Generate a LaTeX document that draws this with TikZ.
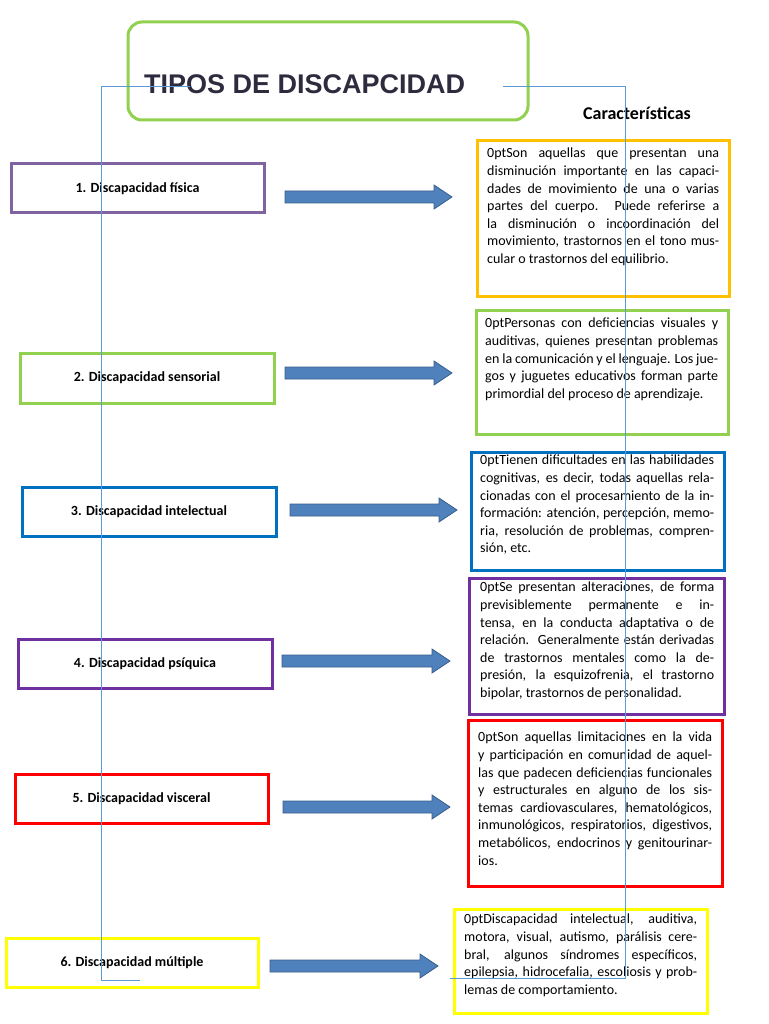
\documentclass[tikz,border=0pt]{standalone}
\usepackage{fontspec}
\setmainfont{Carlito}
\newfontfamily\titlefont{Liberation Sans}
\definecolor{cpurple}{HTML}{8064A2}
\definecolor{cpurpleb}{HTML}{7030A0}
\definecolor{cgreen}{HTML}{92D050}
\definecolor{cblue}{HTML}{0070C0}
\definecolor{cred}{HTML}{FF0000}
\definecolor{cyellow}{HTML}{FFFF00}
\definecolor{corange}{HTML}{FFC000}
\definecolor{arrfill}{HTML}{4F81BD}
\definecolor{arrline}{HTML}{385D8A}
\definecolor{conn}{HTML}{5B9BD5}
\definecolor{titlec}{HTML}{2E2B3F}
\newcommand{\bigarr}[3]{% x1, x2, y
  \path[fill=arrfill,draw=arrline,line width=0.8pt]
   (#1,#3-6) -- (#2-18,#3-6) -- (#2-18,#3-12) -- (#2,#3) -- (#2-18,#3+12) -- (#2-18,#3+6) -- (#1,#3+6) -- cycle;}
\begin{document}
\begin{tikzpicture}[x=1pt,y=-1pt,
  lbox/.style={draw,line width=3pt},
  lab/.style={font=\bfseries\fontsize{14}{16}\selectfont},
  rbox/.style={draw,line width=3pt},
  rtext/.style={anchor=north west,inner sep=0pt,align=justify,font=\fontsize{14}{17.6}\selectfont\hyphenpenalty=10000\exhyphenpenalty=10000},
  connline/.style={draw=conn,line width=0.8pt}]
\useasboundingbox (0,0) rectangle (768,1024);
% title
\draw[cgreen,line width=3pt,rounded corners=14pt] (128,22) rectangle (528,120);
\node[anchor=west,inner sep=0pt,font=\titlefont\bfseries\fontsize{27}{29}\selectfont,text=titlec] (title) at (144,84) {TIPOS DE DISCAPCIDAD};
\node[font=\bfseries\fontsize{18}{20}\selectfont] (car) at (637,113) {Características};
% left boxes
\draw[lbox,cpurple] (11,164) rectangle (264,213);
\node[lab] (l1) at (137.5,188.5) {1. Discapacidad física};
\draw[lbox,cgreen] (20,353) rectangle (274,403);
\node[lab] (l2) at (147,378) {2. Discapacidad sensorial};
\draw[lbox,cblue] (22,487) rectangle (276,536);
\node[lab] (l3) at (149,511.5) {3. Discapacidad intelectual};
\draw[lbox,cpurpleb] (18,639) rectangle (272,688);
\node[lab] (l4) at (145,663.5) {4. Discapacidad psíquica};
\draw[lbox,cred] (15,774) rectangle (268,823);
\node[lab] (l5) at (141.5,798.5) {5. Discapacidad visceral};
\draw[lbox,cyellow] (6,938) rectangle (258,987);
\node[lab] (l6) at (132,963) {6. Discapacidad múltiple};
% arrows
\bigarr{285}{452}{197}
\bigarr{285}{452}{373}
\bigarr{290}{457}{510}
\bigarr{282}{450}{661}
\bigarr{283}{450}{807}
\bigarr{270}{438}{966}
% right boxes
\draw[rbox,corange] (477,141) rectangle (729,296);
\node[rtext,text width=232pt] (r1) at (487,148) {Son aquellas que presentan una disminución importante en las capacidades de movimiento de una o varias partes del cuerpo. Puede referirse a la disminución o incoordinación del movimiento, trastornos en el tono muscular o trastornos del equilibrio.};
\draw[rbox,cgreen] (476,310) rectangle (728,434);
\node[rtext,text width=233pt] (r2) at (485,318) {Personas con deficiencias visuales y auditivas, quienes presentan problemas en la comunicación y el lenguaje. Los juegos y juguetes educativos forman parte primordial del proceso de aprendizaje.};
\draw[rbox,cblue] (471,452) rectangle (724,570);
\node[rtext,text width=234pt] (r3) at (480,455) {Tienen dificultades en las habilidades cognitivas, es decir, todas aquellas relacionadas con el procesamiento de la información: atención, percepción, memoria, resolución de problemas, comprensión, etc.};
\draw[rbox,cpurpleb] (469,578) rectangle (724,714);
\node[rtext,text width=234pt] (r4) at (480,582) {Se presentan alteraciones, de forma previsiblemente permanente e intensa, en la conducta adaptativa o de relación. Generalmente están derivadas de trastornos mentales como la depresión, la esquizofrenia, el trastorno bipolar, trastornos de personalidad.};
\draw[rbox,cred] (468,720) rectangle (722,886);
\node[rtext,text width=234pt] (r5) at (478,732) {Son aquellas limitaciones en la vida y participación en comunidad de aquellas que padecen deficiencias funcionales y estructurales en alguno de los sistemas cardiovasculares, hematológicos, inmunológicos, respiratorios, digestivos, metabólicos, endocrinos y genitourinarios.};
\draw[rbox,cyellow] (454,909) rectangle (707,1013);
\node[rtext,text width=233pt] (r6) at (464,914) {Discapacidad intelectual, auditiva, motora, visual, autismo, parálisis cerebral, algunos síndromes específicos, epilepsia, hidrocefalia, escoliosis y problemas de comportamiento.};
% connector lines
\coordinate (a1) at (190,86);
\coordinate (a2) at (140,980);
\coordinate (b1) at (503,86);
\coordinate (b2) at (450,978);
\draw[connline] (a1) -- (101,86) -- (101,980) -- (a2);
\draw[connline] (b1) -- (625,86) -- (625,978) -- (b2);
\end{tikzpicture}
\end{document}
